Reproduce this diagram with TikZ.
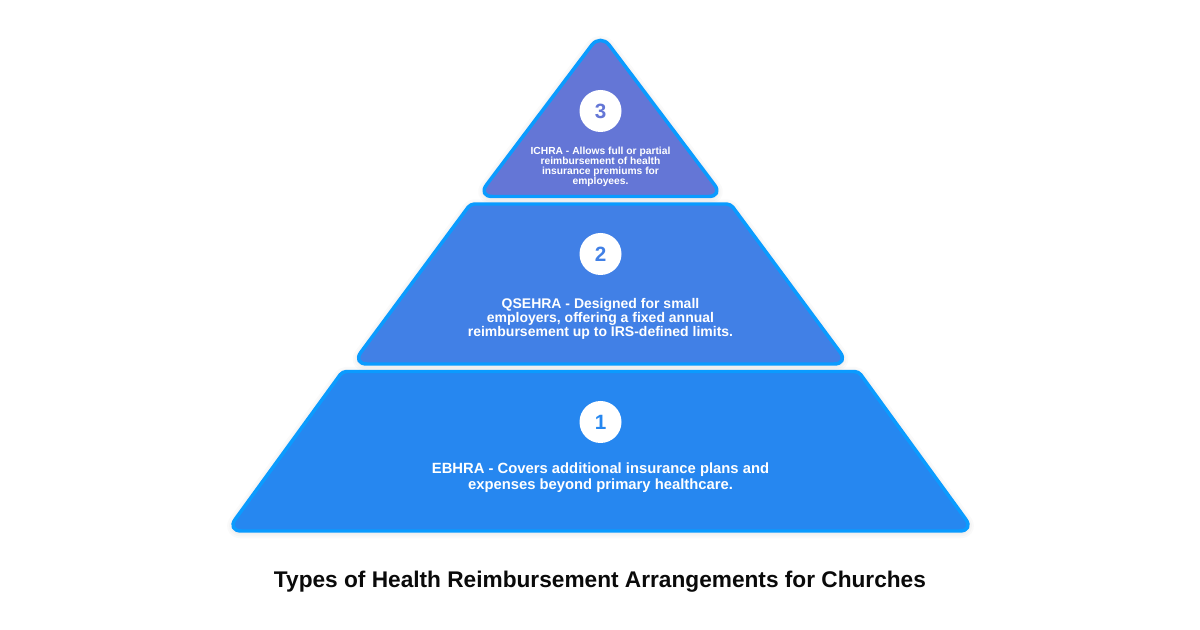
\documentclass[tikz,border=0pt]{standalone}
\usepackage{fontspec}
\setmainfont{Liberation Sans}
\definecolor{edgeblue}{HTML}{0A9BFF}
\definecolor{tierA}{HTML}{2687F0}
\definecolor{tierB}{HTML}{4180E6}
\definecolor{tierC}{HTML}{6476D6}
\definecolor{titleink}{HTML}{0A0A0A}
\tikzset{
  x=0.75pt,y=-0.75pt,
  tier/.style={draw=edgeblue,line width=2.6pt,line join=round},
  halo/.style={draw=black,line join=round,draw opacity=0.018,fill=none},
  badge/.style={circle,fill=white,minimum size=31.5pt,inner sep=0pt,font=\bfseries\fontsize{15.5pt}{16pt}\selectfont},
  tiertext/.style={text=white,align=center,inner sep=0pt,font=\bfseries},
  big/.style={rounded corners=11pt},
  small/.style={rounded corners=3pt},
  pathA/.style={insert path={[big] (600.5,531) -- (226.7,531) [small] -- (342.5,371.5) -- (858.5,371.5) [big] -- (974.3,531) -- cycle}},
  pathB/.style={insert path={[big] (600.5,364) -- (352.2,364) [small] -- (470.5,204) -- (730.5,204) [big] -- (848.8,364) -- cycle}},
  pathC/.style={insert path={[big] (600.5,196.5) -- (477.7,196.5) -- (600.5,33.5) -- (723.3,196.5) -- cycle}},
}
\begin{document}
\begin{tikzpicture}
\useasboundingbox (0,0) rectangle (1200,630);
\fill[white] (0,0) rectangle (1200,630);
% soft shadows
\foreach \w in {9,6,3}{
 \draw[halo,line width=\w pt,yshift=-1pt,pathA];
 \draw[halo,line width=\w pt,yshift=-1pt,pathB];
 \draw[halo,line width=\w pt,yshift=-1pt,pathC];
}
% tiers
\draw[tier,fill=tierA,pathA];
\draw[tier,fill=tierB,pathB];
\draw[tier,fill=tierC,pathC];
% badges
\node[badge,text=tierA] (n1) at (600.5,422) {1};
\node[badge,text=tierB] (n2) at (600.5,254) {2};
\node[badge,text=tierC] (n3) at (600.5,111) {3};
% labels
\node[tiertext,font=\bfseries\fontsize{11.1pt}{12pt}\selectfont] (t1) at (600.5,477.5)
  {EBHRA - Covers additional insurance plans and\\expenses beyond primary healthcare.};
\node[tiertext,font=\bfseries\fontsize{10.5pt}{10.5pt}\selectfont] (t2) at (600.5,319)
  {QSEHRA - Designed for small\\employers, offering a fixed annual\\reimbursement up to IRS-defined limits.};
\node[tiertext,font=\bfseries\fontsize{7.7pt}{7.5pt}\selectfont] (t3) at (600.5,167)
  {ICHRA - Allows full or partial\\reimbursement of health\\insurance premiums for\\employees.};
\node[inner sep=0pt,text=titleink,font=\bfseries\fontsize{17pt}{20pt}\selectfont] (title) at (600,581.5)
  {Types of Health Reimbursement Arrangements for Churches};
\end{tikzpicture}
\end{document}
